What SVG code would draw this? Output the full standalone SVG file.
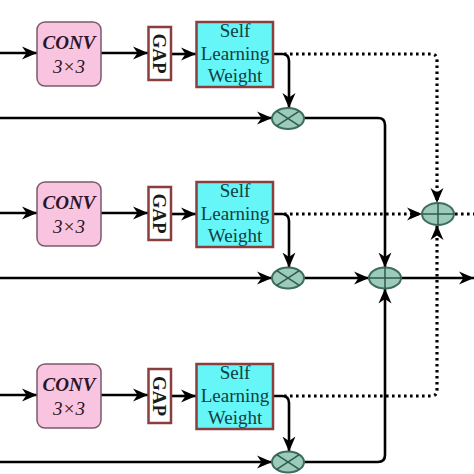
<svg xmlns="http://www.w3.org/2000/svg" width="474" height="474" viewBox="0 0 474 474">
<style>
.conv{fill:#f9c4e0;stroke:#7a5a6a;stroke-width:1.5}
.gap{fill:#ffffff;stroke:#8b3e3e;stroke-width:2.5}
.slw{fill:#66f6f8;stroke:#8b3e3e;stroke-width:2.5}
.op{fill:#9ccbbc;stroke:#3e6e5e;stroke-width:2}
.sym{stroke:#2e5a4c;stroke-width:1.5;fill:none}
.ln{fill:none;stroke:#000;stroke-width:2.6}
.dt{fill:none;stroke:#000;stroke-width:3.2;stroke-dasharray:2.6 3.4}
.t{font-family:"Liberation Serif","Times New Roman",serif;font-size:19px;text-anchor:middle}
.ct{fill:#2a1626;font-weight:bold;font-style:italic}
.c3{fill:#2a1626;font-style:italic}
.st{fill:#124040}
.gt{fill:#1a1a1a;font-weight:bold}
</style>
<defs>
<marker id="ah" markerUnits="userSpaceOnUse" markerWidth="16" markerHeight="14" refX="15" refY="7" orient="auto">
<path d="M0,0.5 L15,7 L0,13.5 L4.5,7 Z" fill="#000"/>
</marker>
</defs>
<g id="connectors">
<path class="ln" d="M0,53 H37" marker-end="url(#ah)"/>
<path class="ln" d="M101,53 H148" marker-end="url(#ah)"/>
<path class="ln" d="M171,54 H196" marker-end="url(#ah)"/>
<path class="ln" d="M273,54 H282 Q289,54 289,61 V108" marker-end="url(#ah)"/>
<path class="ln" d="M0,118 H272" marker-end="url(#ah)"/>
<path class="ln" d="M304,118 H378 Q385,118 385,125 V267.5" marker-end="url(#ah)"/>
<path class="dt" d="M284,54 H431 Q437,54 437,60 V203" marker-end="url(#ah)"/>

<path class="ln" d="M0,213 H37" marker-end="url(#ah)"/>
<path class="ln" d="M101,213 H148" marker-end="url(#ah)"/>
<path class="ln" d="M171,214 H196" marker-end="url(#ah)"/>
<path class="ln" d="M273,214 H282 Q289,214 289,221 V267.5" marker-end="url(#ah)"/>
<path class="ln" d="M0,278 H272" marker-end="url(#ah)"/>
<path class="ln" d="M304,278 H369" marker-end="url(#ah)"/>
<path class="ln" d="M401,278 H474" marker-end="url(#ah)"/>
<path class="dt" d="M284,214 H422" marker-end="url(#ah)"/>
<path class="dt" d="M455,214 H474"/>

<path class="ln" d="M0,395 H37" marker-end="url(#ah)"/>
<path class="ln" d="M101,395 H148" marker-end="url(#ah)"/>
<path class="ln" d="M171,396 H196" marker-end="url(#ah)"/>
<path class="ln" d="M273,396 H282 Q289,396 289,403 V451.5" marker-end="url(#ah)"/>
<path class="ln" d="M0,462 H272" marker-end="url(#ah)"/>
<path class="ln" d="M304,462 H378 Q385,462 385,455 V288.5" marker-end="url(#ah)"/>
<path class="dt" d="M284,396 H431 Q437,396 437,390 V225" marker-end="url(#ah)"/>
</g>

<g id="conv1"><rect class="conv" x="37" y="22" width="64" height="64" rx="8"/><text class="t ct" x="69" y="49">CONV</text><text class="t c3" x="69" y="73">3×3</text></g>
<g id="gap1"><rect class="gap" x="148.5" y="27" width="22.5" height="53"/><text class="t gt" transform="translate(159.8,53.5) rotate(90)" dominant-baseline="central">GAP</text></g>
<g id="slw1"><rect class="slw" x="196.5" y="22" width="76.5" height="65"/><text class="t st" x="235" y="37">Self</text><text class="t st" x="235" y="60">Learning</text><text class="t st" x="235" y="82">Weight</text></g>
<g id="mul1"><ellipse class="op" cx="288" cy="118.5" rx="16" ry="10.5"/><path class="sym" d="M276.7,111.1 L299.3,125.9 M276.7,125.9 L299.3,111.1"/></g>

<g id="conv2"><rect class="conv" x="37" y="182" width="64" height="64" rx="8"/><text class="t ct" x="69" y="209">CONV</text><text class="t c3" x="69" y="233">3×3</text></g>
<g id="gap2"><rect class="gap" x="148.5" y="187" width="22.5" height="53"/><text class="t gt" transform="translate(159.8,213.5) rotate(90)" dominant-baseline="central">GAP</text></g>
<g id="slw2"><rect class="slw" x="196.5" y="182" width="76.5" height="65"/><text class="t st" x="235" y="197">Self</text><text class="t st" x="235" y="220">Learning</text><text class="t st" x="235" y="242">Weight</text></g>
<g id="mul2"><ellipse class="op" cx="288" cy="278" rx="16" ry="10.5"/><path class="sym" d="M276.7,270.6 L299.3,285.4 M276.7,285.4 L299.3,270.6"/></g>
<g id="add1"><ellipse class="op" cx="385" cy="278" rx="16" ry="10.5"/><path class="sym" d="M385,267.5 V288.5 M369,278 H401"/></g>
<g id="add2"><ellipse class="op" cx="438" cy="214" rx="16" ry="11"/><path class="sym" d="M438,203 V225 M422,214 H454"/></g>

<g id="conv3"><rect class="conv" x="37" y="364" width="64" height="64" rx="8"/><text class="t ct" x="69" y="391">CONV</text><text class="t c3" x="69" y="415">3×3</text></g>
<g id="gap3"><rect class="gap" x="148.5" y="369" width="22.5" height="54"/><text class="t gt" transform="translate(159.8,396) rotate(90)" dominant-baseline="central">GAP</text></g>
<g id="slw3"><rect class="slw" x="196.5" y="364" width="76.5" height="65"/><text class="t st" x="235" y="379">Self</text><text class="t st" x="235" y="402">Learning</text><text class="t st" x="235" y="424">Weight</text></g>
<g id="mul3"><ellipse class="op" cx="288" cy="462" rx="16" ry="10.5"/><path class="sym" d="M276.7,454.6 L299.3,469.4 M276.7,469.4 L299.3,454.6"/></g>
</svg>
